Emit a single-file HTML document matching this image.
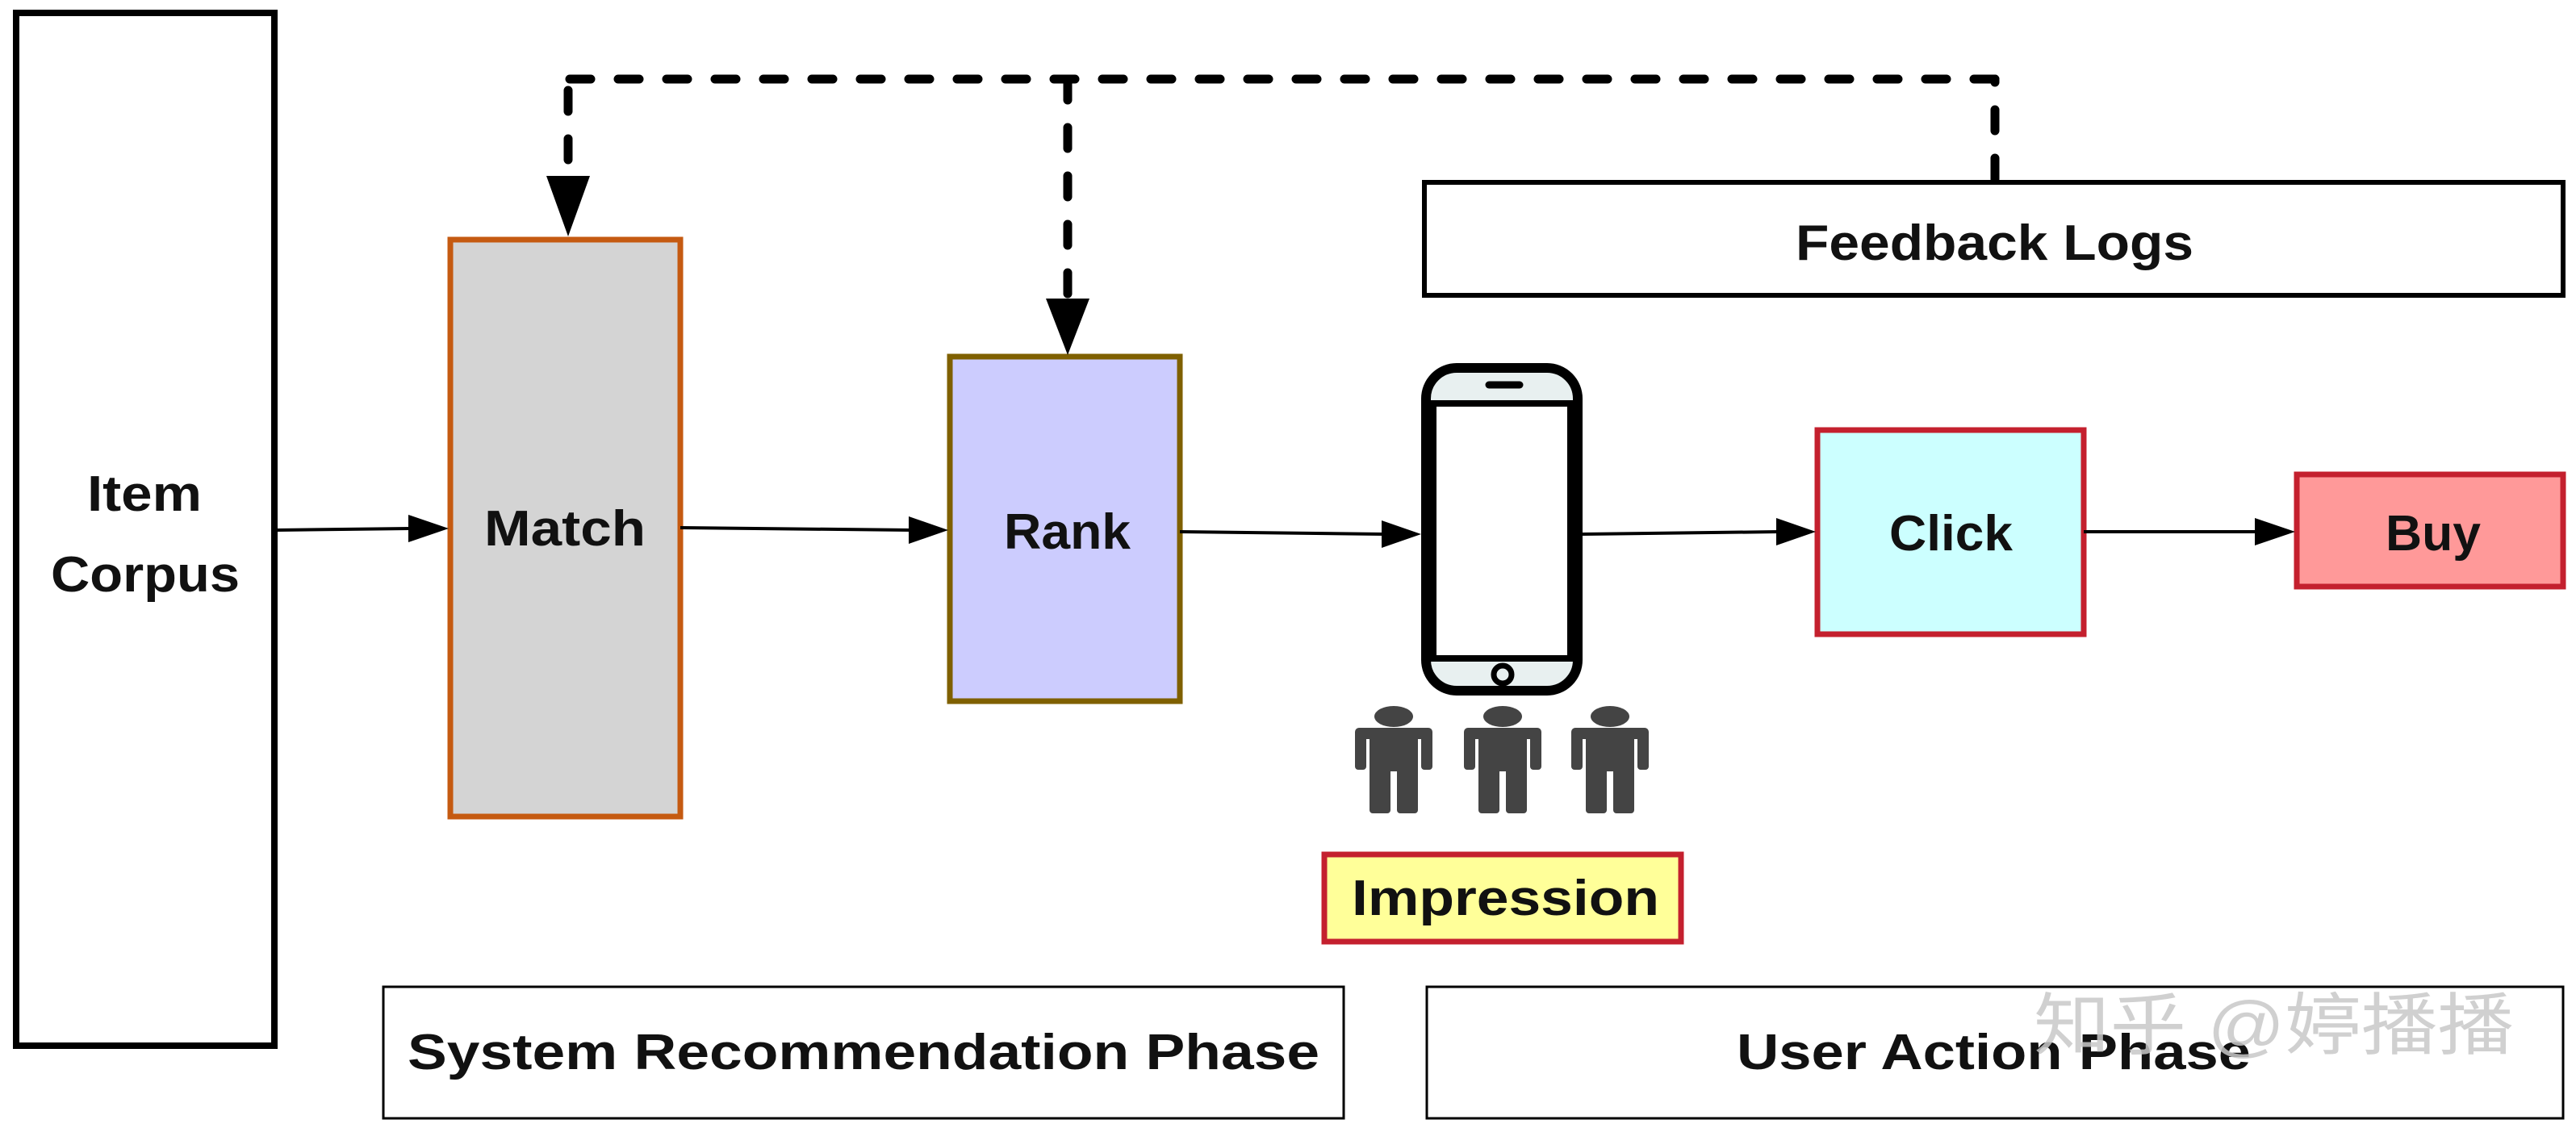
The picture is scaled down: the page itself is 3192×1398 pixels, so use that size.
<!DOCTYPE html>
<html><head><meta charset="utf-8"><style>
html,body{margin:0;padding:0;background:#fff;}
svg{display:block;}
text{font-family:"Liberation Sans","Noto Sans CJK SC",sans-serif;font-weight:bold;fill:#111;}
</style></head><body>
<svg width="3192" height="1398" viewBox="0 0 3192 1398" xmlns="http://www.w3.org/2000/svg">
<!-- boxes -->
<rect x="20" y="16" width="320" height="1280" fill="#fff" stroke="#000" stroke-width="8"/>
<rect x="558" y="297" width="285" height="715" fill="#d4d4d4" stroke="#c55a11" stroke-width="7"/>
<rect x="1177" y="442" width="285" height="427" fill="#ccccfe" stroke="#7f6000" stroke-width="7"/>
<rect x="2252" y="533" width="330" height="253" fill="#ccffff" stroke="#c4202e" stroke-width="7"/>
<rect x="2846" y="588" width="330" height="139" fill="#ff9999" stroke="#c4202e" stroke-width="7"/>
<rect x="1765" y="226" width="1411" height="140" fill="#fff" stroke="#000" stroke-width="6"/>
<rect x="1641" y="1059" width="442" height="108" fill="#ffff99" stroke="#c4202e" stroke-width="7"/>
<rect x="475" y="1223" width="1190" height="163" fill="#fff" stroke="#000" stroke-width="3"/>
<rect x="1768" y="1223" width="1408" height="163" fill="#fff" stroke="#000" stroke-width="3"/>

<!-- solid arrows -->
<g stroke="#000" stroke-width="4">
<line x1="342" y1="657" x2="510" y2="655"/>
<line x1="843" y1="654" x2="1130" y2="657"/>
<line x1="1462" y1="659" x2="1715" y2="662"/>
<line x1="1961" y1="662" x2="2205" y2="659"/>
<line x1="2582" y1="659" x2="2798" y2="659"/>
</g>
<g fill="#000">
<polygon points="506,638 556,655 506,672"/>
<polygon points="1126,640 1175,657 1126,674"/>
<polygon points="1712,645 1761,662 1712,679"/>
<polygon points="2201,642 2250,659 2201,676"/>
<polygon points="2794,642 2844,659 2794,676"/>
</g>

<!-- dashed feedback -->
<g stroke="#000" stroke-width="11" stroke-linecap="round" fill="none" stroke-dasharray="26 34">
<line x1="2472" y1="222" x2="2472" y2="98"/>
<line x1="2472" y1="98" x2="704" y2="98"/>
<line x1="704" y1="112" x2="704" y2="225"/>
<line x1="1323" y1="98" x2="1323" y2="380"/>
</g>
<g fill="#000">
<polygon points="677,218 731,218 704,293"/>
<polygon points="1296,370 1350,370 1323,440"/>
</g>

<!-- phone -->
<rect x="1767" y="456" width="188" height="400" rx="38" fill="#e8f0f0" stroke="#000" stroke-width="12"/>
<rect x="1776" y="500" width="170" height="316" fill="#fff" stroke="#000" stroke-width="8"/>
<line x1="1845" y1="477" x2="1883" y2="477" stroke="#000" stroke-width="9" stroke-linecap="round"/>
<circle cx="1862" cy="836" r="11" fill="#e8f0f0" stroke="#000" stroke-width="7"/>

<!-- people -->
<g fill="#444">
<g transform="translate(1727,0)">
<ellipse cx="0" cy="888" rx="24" ry="13"/>
<rect x="-48" y="902" width="96" height="14" rx="5"/>
<rect x="-48" y="906" width="14" height="48" rx="4"/>
<rect x="34" y="906" width="14" height="48" rx="4"/>
<rect x="-30" y="906" width="60" height="50"/>
<rect x="-30" y="950" width="26" height="58" rx="4"/>
<rect x="4" y="950" width="26" height="58" rx="4"/>
</g>
<g transform="translate(1862,0)">
<ellipse cx="0" cy="888" rx="24" ry="13"/>
<rect x="-48" y="902" width="96" height="14" rx="5"/>
<rect x="-48" y="906" width="14" height="48" rx="4"/>
<rect x="34" y="906" width="14" height="48" rx="4"/>
<rect x="-30" y="906" width="60" height="50"/>
<rect x="-30" y="950" width="26" height="58" rx="4"/>
<rect x="4" y="950" width="26" height="58" rx="4"/>
</g>
<g transform="translate(1995,0)">
<ellipse cx="0" cy="888" rx="24" ry="13"/>
<rect x="-48" y="902" width="96" height="14" rx="5"/>
<rect x="-48" y="906" width="14" height="48" rx="4"/>
<rect x="34" y="906" width="14" height="48" rx="4"/>
<rect x="-30" y="906" width="60" height="50"/>
<rect x="-30" y="950" width="26" height="58" rx="4"/>
<rect x="4" y="950" width="26" height="58" rx="4"/>
</g>
</g>

<!-- labels -->
<g font-size="62">
<text x="108" y="633" textLength="142" lengthAdjust="spacingAndGlyphs">Item</text>
<text x="63" y="733" textLength="234" lengthAdjust="spacingAndGlyphs">Corpus</text>
<text x="600" y="676" textLength="200" lengthAdjust="spacingAndGlyphs">Match</text>
<text x="1244" y="680" textLength="157" lengthAdjust="spacingAndGlyphs">Rank</text>
<text x="2341" y="682" textLength="153" lengthAdjust="spacingAndGlyphs">Click</text>
<text x="2956" y="682" textLength="118" lengthAdjust="spacingAndGlyphs">Buy</text>
<text x="2225" y="322" textLength="493" lengthAdjust="spacingAndGlyphs">Feedback Logs</text>
<text x="1675" y="1134" textLength="381" lengthAdjust="spacingAndGlyphs">Impression</text>
<text x="505" y="1325" textLength="1130" lengthAdjust="spacingAndGlyphs">System Recommendation Phase</text>
<text x="2152" y="1325" textLength="637" lengthAdjust="spacingAndGlyphs">User Action Phase</text>
</g>
<text x="2520" y="1300" font-size="84" style="fill:#c8c8c8;font-weight:normal;opacity:0.85" textLength="595" lengthAdjust="spacingAndGlyphs">知乎 @婷播播</text>
</svg>
</body></html>
